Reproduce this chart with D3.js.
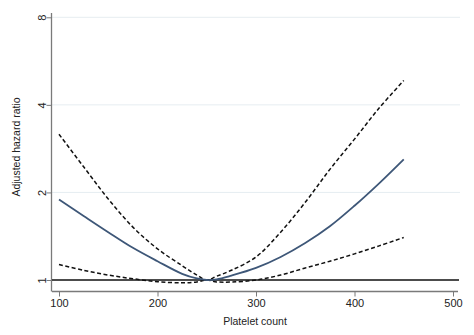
<!DOCTYPE html>
<html><head><meta charset="utf-8">
<script src="https://cdn.jsdelivr.net/npm/d3@7"></script>
<style>body{margin:0;background:#fff}svg{display:block}text{font-family:"Liberation Sans",Arial,sans-serif;fill:#222}</style>
</head><body><div id="c"></div>
<script>
const platelet = [100,125,150,175,200,225,240,250,260,275,300,325,350,375,400,425,450];
const hr       = [1.89,1.66,1.46,1.29,1.16,1.05,1.012,1.00,1.005,1.035,1.10,1.20,1.34,1.53,1.80,2.15,2.60];
const upper    = [3.17,2.45,1.90,1.52,1.28,1.12,1.04,1.00,1.03,1.08,1.20,1.46,1.85,2.40,3.05,3.90,4.85];
const lower    = [1.13,1.08,1.04,1.01,0.987,0.978,0.985,1.00,0.985,0.984,1.00,1.04,1.10,1.16,1.23,1.31,1.40];
const xTicks = [100,200,300,400,500];
const yTicks = [1,2,4,8];

const W=474,H=335;
const svg=d3.select("#c").append("svg").attr("width",W).attr("height",H);
const x=d3.scaleLinear().domain([100,500]).range([59,453]);
const y=d3.scaleLog().base(2).domain([1,8]).range([280,17.3]);

// gridlines
svg.append("g").selectAll("line").data(yTicks.filter(d=>d>1)).join("line")
  .attr("x1",52).attr("x2",460).attr("y1",d=>y(d)).attr("y2",d=>y(d))
  .attr("stroke","#e6edf1").attr("stroke-width",1);

// axes
const gx=svg.append("g").attr("transform","translate(0,291.5)")
  .call(d3.axisBottom(x).tickValues(xTicks).tickSize(5).tickPadding(3).tickFormat(d3.format("d")));
gx.select(".domain").attr("d","M52,0H458");
const gy=svg.append("g").attr("transform","translate(51.5,0)")
  .call(d3.axisLeft(y).tickValues(yTicks).tickSize(5).tickPadding(6).tickFormat(d3.format("d")));
gy.select(".domain").attr("d","M0,13V291.5");
[gx,gy].forEach(g=>{g.selectAll(".domain").attr("stroke","#7a7a7a").attr("stroke-width",1.3);
  g.selectAll(".tick line").attr("stroke","#7a7a7a");
  g.selectAll(".tick text").attr("font-size",11).attr("fill","#222");});
gy.selectAll(".tick text").attr("text-anchor","middle")
  .attr("transform","translate(-9,0) rotate(-90)").attr("x",0).attr("y",0).attr("dy","0.35em");
gx.selectAll(".tick text").attr("dy","0.71em");

// reference line
svg.append("line").attr("x1",52).attr("x2",459).attr("y1",y(1)).attr("y2",y(1))
  .attr("stroke","#111").attr("stroke-width",1.4);

const line=d3.line().x((d,i)=>x(platelet[i])).y(d=>y(d)).curve(d3.curveCatmullRom.alpha(0.5));
svg.append("path").attr("d",line(upper)).attr("fill","none").attr("stroke","#111").attr("stroke-width",1.5).attr("stroke-dasharray","4,2.5");
svg.append("path").attr("d",line(lower)).attr("fill","none").attr("stroke","#111").attr("stroke-width",1.5).attr("stroke-dasharray","4,2.5");
svg.append("path").attr("d",line(hr)).attr("fill","none").attr("stroke","#3e5778").attr("stroke-width",1.8);

// titles
svg.append("text").attr("x",255).attr("y",325).attr("text-anchor","middle").attr("font-size",10.5).text("Platelet count");
svg.append("text").attr("transform","translate(20,147) rotate(-90)").attr("text-anchor","middle").attr("font-size",10.5).text("Adjusted hazard ratio");
</script></body></html>
